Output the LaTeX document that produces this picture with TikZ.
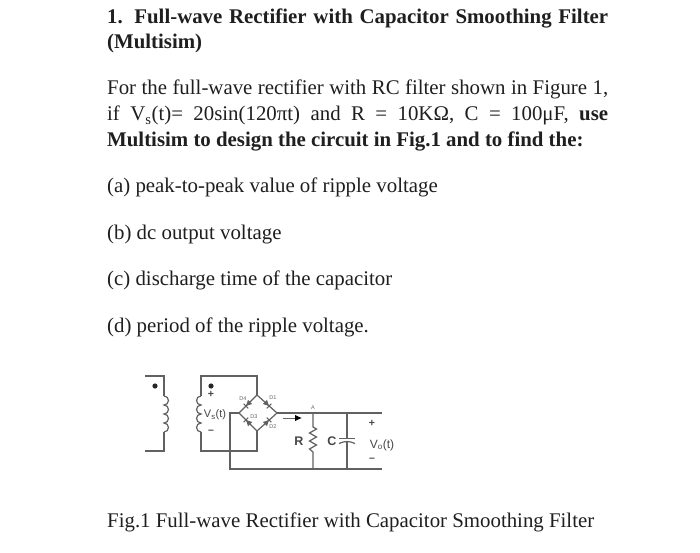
\documentclass[tikz,border=0pt]{standalone}
\usepackage{fontspec}
\setmainfont{Liberation Serif}
\newfontfamily\lsans{Liberation Sans}
\usetikzlibrary{arrows.meta}
\tikzset{
  txt/.style={anchor=base west,inner sep=0pt,font=\fontsize{20.85}{21}\selectfont,text=black!88},
  btxt/.style={txt,font=\bfseries\fontsize{20.85}{21}\selectfont},
  wire/.style={draw=black!62,line width=1.2pt},
  lab/.style={inner sep=0pt,font=\lsans\bfseries\fontsize{10.5}{11}\selectfont,text=black!72},
  biglab/.style={lab,font=\lsans\fontsize{11}{12}\selectfont},
  tiny/.style={inner sep=0pt,font=\lsans\fontsize{5.5}{6}\selectfont,text=black!60},
  pt/.style={inner sep=0pt,minimum size=0pt},
}
\newcommand{\jline}[2]{\makebox[#1pt][s]{#2}}
\newcommand{\dio}[3]{% position, rotation, name
  \node[pt] (#3) at (#1) {};
  \begin{scope}[shift={(#1)},rotate=#2]
    \fill[black!62] (-3,-3) -- (-3,3) -- (2.6,0) -- cycle;
    \draw[black!62,line width=1.1pt] (2.9,-3.2) -- (2.9,3.2);
  \end{scope}}
\begin{document}
\begin{tikzpicture}[x=1pt,y=-1pt]
\useasboundingbox (0,0) rectangle (700,553);
\fill[white] (0,0) rectangle (700,553);
\node[btxt] (t1) at (107,24) {\jline{501}{1. Full-wave Rectifier with Capacitor Smoothing Filter}};
\node[btxt] (t2) at (107,49) {(Multisim)};
\node[txt] (p1) at (107,95) {\jline{501}{For the full-wave rectifier with RC filter shown in Figure 1,}};
\node[txt] (p2) at (107,121) {\jline{501}{if V\textsubscript{s}(t)= 20sin(120πt) and R = 10KΩ, C = 100μF, \textbf{use}}};
\node[btxt] (p3) at (107,147) {Multisim to design the circuit in Fig.1 and to find the:};
\node[txt] (a) at (107,193) {(a) peak-to-peak value of ripple voltage};
\node[txt] (b) at (107,239) {(b) dc output voltage};
\node[txt] (c) at (107,285) {(c) discharge time of the capacitor};
\node[txt] (d) at (107,332) {(d) period of the ripple voltage.};
\node[txt] (f) at (107,527) {Fig.1 Full-wave Rectifier with Capacitor Smoothing Filter};
% primary
\coordinate (ptl) at (145,376); \coordinate (ptr) at (164,376);
\coordinate (pc1) at (164,396); \coordinate (pc2) at (164,432);
\coordinate (pbr) at (164,451); \coordinate (pbl) at (145,451);
\draw[wire] (ptl) -- (ptr) -- (pc1);
\draw[wire] (pc2) -- (pbr) -- (pbl);
\draw[wire] (pc1) arc[start angle=-90,end angle=90,radius=4.5] arc[start angle=-90,end angle=90,radius=4.5] arc[start angle=-90,end angle=90,radius=4.5] arc[start angle=-90,end angle=90,radius=4.5];
\fill[black!85] (155,386) circle (2.6);
% secondary
\coordinate (stl) at (201,376); \coordinate (str) at (257,376);
\coordinate (sc1) at (201,396); \coordinate (sc2) at (201,432);
\coordinate (sbl) at (201,451); \coordinate (sbr) at (257,451);
\coordinate (dt) at (257,395); \coordinate (dl) at (239,413);
\coordinate (dr) at (277,413); \coordinate (db) at (257,431);
\coordinate (lk) at (230,413); \coordinate (lb) at (230,469);
\coordinate (rt) at (382,413); \coordinate (rb) at (382,469);
\coordinate (rs) at (313,413); \coordinate (rs2) at (313,469);
\coordinate (cs) at (347,413); \coordinate (cs2) at (347,469);
\draw[wire] (sc1) -- (stl) -- (str) -- (dt);
\draw[wire] (sc2) -- (sbl) -- (sbr) -- (db);
\draw[wire] (sc1) arc[start angle=270,end angle=90,radius=4.5] arc[start angle=270,end angle=90,radius=4.5] arc[start angle=270,end angle=90,radius=4.5] arc[start angle=270,end angle=90,radius=4.5];
\fill[black!85] (211,386) circle (2.6);
\draw[wire] (dt) -- (dr) -- (db) -- (dl) -- cycle;
\draw[wire] (dl) -- (lk) -- (lb) -- (rb);
\draw[wire] (dr) -- (rt);
\dio{267,404}{-45}{d1}
\dio{267,422}{45}{d2}
\dio{248,422}{135}{d3}
\dio{248,404}{-135}{d4}
\node[tiny] (l1) at (273,398) {D1};
\node[tiny] (l2) at (273,427) {D2};
\node[tiny] (l3) at (254,417) {D3};
\node[tiny] (l4) at (243,399) {D4};
% R
\draw[wire] (rs) -- (313,427) -- (316.5,429) -- (309.5,433) -- (316.5,437) -- (309.5,441) -- (316.5,445) -- (309.5,449) -- (313,452) -- (313,456) -- (rs2);
% C
\draw[wire] (cs) -- (347,438.5);
\draw[wire] (339,438.5) -- (355,438.5);
\draw[wire] (339,443.5) to[bend left=25] (355,443.5);
\draw[wire] (347,441.5) -- (cs2);
% labels
\node[biglab] (vs) at (215,415) {V\textsubscript{s}(t)};
\node[lab] (sp) at (211,394) {+};
\node[lab] (sm) at (211,432) {–};
\node[biglab,font=\lsans\bfseries\fontsize{12.5}{13}\selectfont] (rl) at (299,441) {R};
\node[biglab,font=\lsans\bfseries\fontsize{12.5}{13}\selectfont] (cl) at (332,441) {C};
\node[biglab,font=\lsans\fontsize{12}{13}\selectfont] (vo) at (382,445) {V\textsubscript{o}(t)};
\node[lab] (op) at (372,423) {+};
\node[lab] (om) at (372,460) {–};
\node[tiny] (al) at (313,408) {A};
\coordinate (a1) at (283,418); \coordinate (a2) at (302,418);
\draw[black!60,line width=.9pt,-{Latex[length=7pt,width=6.5pt,black]}] (a1) -- (a2);
\end{tikzpicture}
\end{document}
